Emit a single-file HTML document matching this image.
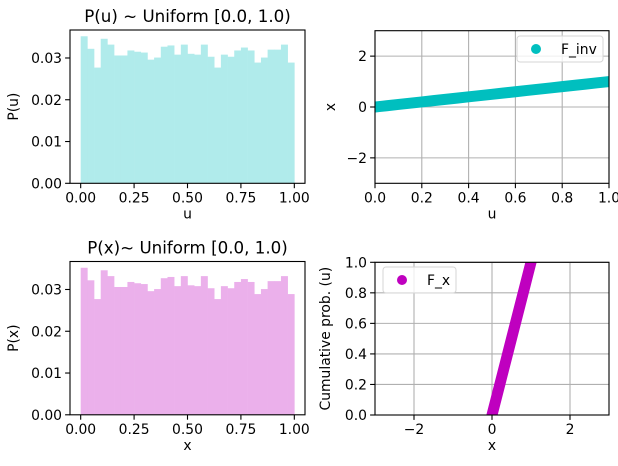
<!DOCTYPE html>
<html><head><meta charset="utf-8"><style>
body{margin:0;background:#fff}
svg{font-family:"DejaVu Sans","Liberation Sans",sans-serif;font-size:13.9px}
</style></head><body>
<svg id="c" width="618" height="461" xmlns="http://www.w3.org/2000/svg"></svg>
<script>
const binEdgesStart = 0, binEdgesEnd = 1;
const histValues = [0.0352,0.0322,0.0277,0.0346,0.0332,0.0306,0.0306,0.0318,0.0315,0.0313,0.0296,0.0301,0.0327,0.0330,0.0308,0.0332,0.0310,0.0308,0.0332,0.0303,0.0277,0.0308,0.0303,0.0318,0.0325,0.0318,0.0289,0.0301,0.0320,0.0320,0.0332,0.0289];
const histYTicks = [0,0.01,0.02,0.03];
const histXTicks = [0,0.25,0.5,0.75,1];
const histXLabels = ["0.00","0.25","0.50","0.75","1.00"];
const uSamples = [0,0.05,0.1,0.15,0.2,0.25,0.3,0.35,0.4,0.45,0.5,0.55,0.6,0.65,0.7,0.75,0.8,0.85,0.9,0.95,1];
const xSamples = [0,0.05,0.1,0.15,0.2,0.25,0.3,0.35,0.4,0.45,0.5,0.55,0.6,0.65,0.7,0.75,0.8,0.85,0.9,0.95,1];
const trXTicks = [0,0.2,0.4,0.6,0.8,1.0];
const trYTicks = [-2,0,2];
const brXTicks = [-2,0,2];
const brYTicks = [0,0.2,0.4,0.6,0.8,1.0];

const svg = document.getElementById('c');
const NS = 'http://www.w3.org/2000/svg';
function el(tag, attrs, parent, text){
  const e = document.createElementNS(NS, tag);
  for (const k in attrs) e.setAttribute(k, attrs[k]);
  if (text !== undefined) e.textContent = text;
  (parent || svg).appendChild(e);
  return e;
}
function lin(d0,d1,r0,r1){return v=>r0+(v-d0)/(d1-d0)*(r1-r0);}
function fmtMinus(s){return String(s).replace('-','\u2212');}

function axesFrame(g,L,R,T,B){
  const f = el('rect',{x:L,y:T,width:R-L,height:B-T,fill:'none',stroke:'#000','stroke-width':1.1},g);
  
  
}

function hist(L,R,T,B,color,title,xl,yl,prefix){
  const g = el('g',{});
  
  
  const xs = lin(-0.05,1.05,L,R), ys = lin(0,0.0367,B,T);
  const n = histValues.length, w = (binEdgesEnd-binEdgesStart)/n;
  histValues.forEach((v,i)=>{
    const x0 = xs(binEdgesStart+i*w), x1 = xs(binEdgesStart+(i+1)*w);
    const r = el('rect',{x:x0,y:ys(v),width:x1-x0+0.3,height:B-ys(v),fill:color},g);
    
    
  });
  axesFrame(g,L,R,T,B);
  histXTicks.forEach((t,i)=>{
    el('line',{x1:xs(t),x2:xs(t),y1:B,y2:B+4.9,stroke:'#000','stroke-width':1.1},g);
    const tx = el('text',{x:xs(t),y:B+19,'text-anchor':'middle'},g,histXLabels[i]);
    
    
  });
  histYTicks.forEach(t=>{
    el('line',{x1:L-4.9,x2:L,y1:ys(t),y2:ys(t),stroke:'#000','stroke-width':1.1},g);
    const tx = el('text',{x:L-8,y:ys(t)+5,'text-anchor':'end'},g,t.toFixed(2));
    
    
  });
  const tt = el('text',{x:(L+R)/2,y:T-8,'text-anchor':'middle','font-size':'16.7px'},g,title);
  
  
  const xt = el('text',{x:(L+R)/2,y:B+35,'text-anchor':'middle'},g,xl);
  
  
  const yt = el('text',{x:0,y:0,'text-anchor':'middle',transform:`translate(${L-52},${(T+B)/2}) rotate(-90)`},g,yl);
  
  
}
hist(70,305,30,183.3,'#b0ebeb','P(u) ~ Uniform [0.0, 1.0)','u','P(u)','top-left');
hist(70,305,261.5,414.8,'#ebb0eb','P(x)~ Uniform [0.0, 1.0)','x','P(x)','bottom-left');

function scatterPanel(L,R,T,B,xd,yd,xt,yt,xfmt,yfmt,px,py,color,leg,legX,legY,legW,xl,yl,prefix,ylOff){
  const g = el('g',{});
  
  
  const xs = lin(xd[0],xd[1],L,R), ys = lin(yd[0],yd[1],B,T);
  const cp = el('clipPath',{id:prefix+'clip'},g);
  el('rect',{x:L,y:T,width:R-L,height:B-T},cp);
  xt.forEach(t=>{ el('line',{x1:xs(t),x2:xs(t),y1:T,y2:B,stroke:'#b0b0b0','stroke-width':1.1},g);});
  yt.forEach(t=>{ el('line',{x1:L,x2:R,y1:ys(t),y2:ys(t),stroke:'#b0b0b0','stroke-width':1.1},g);});
  const pts = px.map((v,i)=>xs(v)+','+ys(py[i])).join(' ');
  const pl = el('polyline',{points:pts,fill:'none',stroke:color,'stroke-width':11,'stroke-linecap':'round','clip-path':`url(#${prefix}clip)`},g);
  
  
  axesFrame(g,L,R,T,B);
  xt.forEach(t=>{
    el('line',{x1:xs(t),x2:xs(t),y1:B,y2:B+4.9,stroke:'#000','stroke-width':1.1},g);
    const tx = el('text',{x:xs(t),y:B+19,'text-anchor':'middle'},g,fmtMinus(xfmt(t)));
    
    
  });
  yt.forEach(t=>{
    el('line',{x1:L-4.9,x2:L,y1:ys(t),y2:ys(t),stroke:'#000','stroke-width':1.1},g);
    const tx = el('text',{x:L-8,y:ys(t)+5,'text-anchor':'end'},g,fmtMinus(yfmt(t)));
    
    
  });
  const xa = el('text',{x:(L+R)/2,y:B+35,'text-anchor':'middle'},g,xl);
  
  
  const ya = el('text',{x:0,y:0,'text-anchor':'middle',transform:`translate(${L-ylOff},${(T+B)/2}) rotate(-90)`},g,yl);
  
  
  const lg = el('g',{},g);
  
  
  el('rect',{x:legX,y:legY,width:legW,height:26,rx:3,fill:'#fff','fill-opacity':0.8,stroke:'#d6d6d6','stroke-width':1},lg);
  el('circle',{cx:legX+19,cy:legY+13,r:5,fill:color},lg);
  const lt = el('text',{x:legX+44,y:legY+18},lg,leg);
  
  
}
scatterPanel(375,609,30.7,183.3,[0,1],[-3,3],trXTicks,trYTicks,t=>t.toFixed(1),t=>String(t),
  uSamples,xSamples,'#00bfbf','F_inv',517,36,86,'u','x','top-right',40);
scatterPanel(375,609,262.3,415,[-3,3],[0,1],brXTicks,brYTicks,t=>String(t),t=>t.toFixed(1),
  xSamples,uSamples,'#bf00bf','F_x',383,267,73,'x','Cumulative prob. (u)','bottom-right',45);
</script>
</body></html>
